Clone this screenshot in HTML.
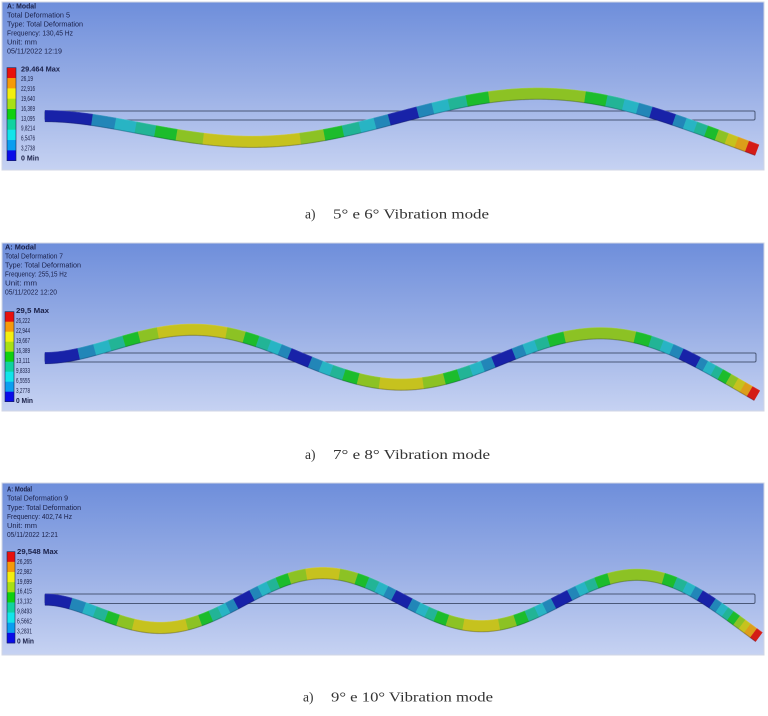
<!DOCTYPE html>
<html><head><meta charset="utf-8">
<style>
html,body{margin:0;padding:0;background:#fff;}
svg{display:block;}
.h{font-family:"Liberation Sans",sans-serif;font-size:7.5px;fill:#1a2048;}
.hb{font-family:"Liberation Sans",sans-serif;font-size:7.5px;fill:#1a2048;font-weight:bold;}
.l{font-family:"Liberation Sans",sans-serif;font-size:7px;fill:#1a2048;}
.lb{font-family:"Liberation Sans",sans-serif;font-size:7px;fill:#1a2048;font-weight:bold;}
.c{font-family:"Liberation Serif",serif;font-size:13.5px;fill:#333333;}
</style></head><body>
<svg id="s" width="768" height="716" viewBox="0 0 768 716" xmlns="http://www.w3.org/2000/svg">
<defs>
<linearGradient id="bg" x1="0" y1="0" x2="0" y2="1">
<stop offset="0" stop-color="#6e8edb"/>
<stop offset="0.5" stop-color="#98aee5"/>
<stop offset="1" stop-color="#c6d2f2"/>
</linearGradient>
</defs>
<rect width="768" height="716" fill="#fff"/>

<!-- Panel 1 -->
<rect x="2" y="2" width="762" height="168" fill="url(#bg)" stroke="#d0d6e4" stroke-width="1"/>
<text class="hb" x="7" y="8.5" textLength="29" lengthAdjust="spacingAndGlyphs">A: Modal</text>
<text class="h" x="7" y="17.5" textLength="63" lengthAdjust="spacingAndGlyphs">Total Deformation 5</text>
<text class="h" x="7" y="26.5" textLength="76" lengthAdjust="spacingAndGlyphs">Type: Total Deformation</text>
<text class="h" x="7" y="35.5" textLength="66" lengthAdjust="spacingAndGlyphs">Frequency: 130,45 Hz</text>
<text class="h" x="7" y="44.5" textLength="30" lengthAdjust="spacingAndGlyphs">Unit: mm</text>
<text class="h" x="7" y="53.5" textLength="55" lengthAdjust="spacingAndGlyphs">05/11/2022 12:19</text>
<text class="lb" x="21" y="71.3" textLength="39" lengthAdjust="spacingAndGlyphs">29.464 Max</text>
<text class="l" x="21" y="81.2" textLength="12" lengthAdjust="spacingAndGlyphs">26,19</text>
<text class="l" x="21" y="91.1" textLength="14" lengthAdjust="spacingAndGlyphs">22,916</text>
<text class="l" x="21" y="101" textLength="14" lengthAdjust="spacingAndGlyphs">19,640</text>
<text class="l" x="21" y="110.9" textLength="14" lengthAdjust="spacingAndGlyphs">16,369</text>
<text class="l" x="21" y="120.8" textLength="14" lengthAdjust="spacingAndGlyphs">13,095</text>
<text class="l" x="21" y="130.6" textLength="14" lengthAdjust="spacingAndGlyphs">9,8214</text>
<text class="l" x="21" y="140.5" textLength="14" lengthAdjust="spacingAndGlyphs">6,5476</text>
<text class="l" x="21" y="150.4" textLength="14" lengthAdjust="spacingAndGlyphs">3,2738</text>
<text class="lb" x="21" y="160.3" textLength="18" lengthAdjust="spacingAndGlyphs">0 Min</text>
<rect x="45" y="111" width="710" height="9" rx="1.5" fill="none" stroke="#4a5878" stroke-width="1"/>
<g id="b1"></g>
<g id="g1"></g>

<text class="c" x="305" y="218.5">a)</text>
<text class="c" x="333" y="218.5" textLength="156" lengthAdjust="spacingAndGlyphs">5° e 6° Vibration mode</text>

<!-- Panel 2 -->
<rect x="2" y="243" width="762" height="168" fill="url(#bg)" stroke="#d0d6e4" stroke-width="1"/>
<text class="hb" x="5" y="249.5" textLength="31" lengthAdjust="spacingAndGlyphs">A: Modal</text>
<text class="h" x="5" y="258.5" textLength="58" lengthAdjust="spacingAndGlyphs">Total Deformation 7</text>
<text class="h" x="5" y="267.5" textLength="76" lengthAdjust="spacingAndGlyphs">Type: Total Deformation</text>
<text class="h" x="5" y="276.5" textLength="62" lengthAdjust="spacingAndGlyphs">Frequency: 255,15 Hz</text>
<text class="h" x="5" y="285.5" textLength="32" lengthAdjust="spacingAndGlyphs">Unit: mm</text>
<text class="h" x="5" y="294.5" textLength="52" lengthAdjust="spacingAndGlyphs">05/11/2022 12:20</text>
<text class="lb" x="16" y="313" textLength="33" lengthAdjust="spacingAndGlyphs">29,5 Max</text>
<text class="l" x="16" y="323" textLength="14" lengthAdjust="spacingAndGlyphs">26,222</text>
<text class="l" x="16" y="333" textLength="14" lengthAdjust="spacingAndGlyphs">22,944</text>
<text class="l" x="16" y="343" textLength="14" lengthAdjust="spacingAndGlyphs">19,667</text>
<text class="l" x="16" y="353" textLength="14" lengthAdjust="spacingAndGlyphs">16,389</text>
<text class="l" x="16" y="363" textLength="14" lengthAdjust="spacingAndGlyphs">13,111</text>
<text class="l" x="16" y="373" textLength="14" lengthAdjust="spacingAndGlyphs">9,8333</text>
<text class="l" x="16" y="383" textLength="14" lengthAdjust="spacingAndGlyphs">6,5555</text>
<text class="l" x="16" y="393" textLength="14" lengthAdjust="spacingAndGlyphs">3,2778</text>
<text class="lb" x="16" y="403" textLength="17" lengthAdjust="spacingAndGlyphs">0 Min</text>
<rect x="45" y="353" width="711" height="9" rx="1.5" fill="none" stroke="#4a5878" stroke-width="1"/>
<g id="b2"></g>
<g id="g2"></g>

<text class="c" x="305" y="459">a)</text>
<text class="c" x="333" y="459" textLength="157" lengthAdjust="spacingAndGlyphs">7° e 8° Vibration mode</text>

<!-- Panel 3 -->
<rect x="2" y="483" width="762" height="172" fill="url(#bg)" stroke="#d0d6e4" stroke-width="1"/>
<text class="hb" x="7" y="491.5" textLength="25" lengthAdjust="spacingAndGlyphs">A: Modal</text>
<text class="h" x="7" y="500.5" textLength="61" lengthAdjust="spacingAndGlyphs">Total Deformation 9</text>
<text class="h" x="7" y="510" textLength="74" lengthAdjust="spacingAndGlyphs">Type: Total Deformation</text>
<text class="h" x="7" y="519" textLength="65" lengthAdjust="spacingAndGlyphs">Frequency: 402,74 Hz</text>
<text class="h" x="7" y="528" textLength="30" lengthAdjust="spacingAndGlyphs">Unit: mm</text>
<text class="h" x="7" y="537" textLength="51" lengthAdjust="spacingAndGlyphs">05/11/2022 12:21</text>
<text class="lb" x="17" y="554" textLength="41" lengthAdjust="spacingAndGlyphs">29,548 Max</text>
<text class="l" x="17" y="563.9" textLength="15" lengthAdjust="spacingAndGlyphs">26,265</text>
<text class="l" x="17" y="573.8" textLength="15" lengthAdjust="spacingAndGlyphs">22,982</text>
<text class="l" x="17" y="583.8" textLength="15" lengthAdjust="spacingAndGlyphs">19,699</text>
<text class="l" x="17" y="593.7" textLength="15" lengthAdjust="spacingAndGlyphs">16,415</text>
<text class="l" x="17" y="603.6" textLength="15" lengthAdjust="spacingAndGlyphs">13,132</text>
<text class="l" x="17" y="613.5" textLength="15" lengthAdjust="spacingAndGlyphs">9,8493</text>
<text class="l" x="17" y="623.4" textLength="15" lengthAdjust="spacingAndGlyphs">6,5662</text>
<text class="l" x="17" y="633.4" textLength="15" lengthAdjust="spacingAndGlyphs">3,2831</text>
<text class="lb" x="17" y="643.3" textLength="17" lengthAdjust="spacingAndGlyphs">0 Min</text>
<rect x="45" y="594" width="710" height="9.5" rx="1.5" fill="none" stroke="#4a5878" stroke-width="1"/>
<g id="b3"></g>
<g id="g3"></g>

<text class="c" x="303" y="701.5">a)</text>
<text class="c" x="331" y="701.5" textLength="162" lengthAdjust="spacingAndGlyphs">9° e 10° Vibration mode</text>
</svg>
<script>
(function(){
var NS="http://www.w3.org/2000/svg";
var legendCols=['#e8100c','#f59a0a','#f2ee10','#a8e014','#10d010','#10d2a0','#12e4ea','#0a9ef0','#0a0ce8'];
var beamCols=['#1822a8','#2286b8','#28b4c4','#22b496','#1cbc2c','#8cc224','#c6c21e','#dc9e1a','#d41c16'];
function el(tag,attrs,parent){var e=document.createElementNS(NS,tag);for(var k in attrs)e.setAttribute(k,attrs[k]);parent.appendChild(e);return e;}
function bar(id,x,y0,y1,w){
  var g=document.getElementById(id);var h=(y1-y0)/9;
  for(var i=0;i<9;i++){el('rect',{x:x,y:(y0+i*h).toFixed(2),width:w,height:(h+0.3).toFixed(2),fill:legendCols[i]},g);}
  el('rect',{x:x,y:y0,width:w,height:(y1-y0),fill:'none',stroke:'#1a2450','stroke-width':0.6},g);
}
function beam(id,y0,A,b,x0,x1){
  var g=document.getElementById(id);
  var s=(Math.cosh(b)+Math.cos(b))/(Math.sinh(b)+Math.sin(b));
  var f=function(xi){return Math.cosh(b*xi)-Math.cos(b*xi)-s*(Math.sinh(b*xi)-Math.sin(b*xi));};
  var n1=f(1);var N=800;var pts=[];
  for(var i=0;i<=N;i++){var xi=i/N;var v=f(xi)/n1;pts.push([x0+xi*(x1-x0),y0+A*v,v]);}
  var h=5.7;var top=[],bot=[];
  for(var i=0;i<=N;i++){
    var a=pts[Math.max(0,i-1)],c=pts[Math.min(N,i+1)];
    var dx=c[0]-a[0],dy=c[1]-a[1];var L=Math.hypot(dx,dy);dx/=L;dy/=L;
    top.push([pts[i][0]+dy*h,pts[i][1]-dx*h]);
    bot.push([pts[i][0]-dy*h,pts[i][1]+dx*h]);
  }
  function band(i){var v=(Math.abs(pts[i][2])+Math.abs(pts[i+1][2]))/2;return Math.min(8,Math.floor(v*9));}
  var i0=0,k=band(0);
  function flush(iEnd,kk){
    var p=[];for(var j=i0;j<=iEnd;j++)p.push(top[j][0].toFixed(2)+','+top[j][1].toFixed(2));
    for(var j=iEnd;j>=i0;j--)p.push(bot[j][0].toFixed(2)+','+bot[j][1].toFixed(2));
    el('polygon',{points:p.join(' '),fill:beamCols[kk],stroke:beamCols[kk],'stroke-width':0.4},g);
  }
  for(var i=1;i<N;i++){var kk=band(i);if(kk!==k){flush(i,k);i0=i;k=kk;}}
  flush(N,k);
  var pb=[];for(var j=0;j<=N;j+=2)pb.push(bot[j][0].toFixed(2)+','+bot[j][1].toFixed(2));
  el('polyline',{points:pb.join(' '),fill:'none',stroke:'rgba(10,20,60,0.25)','stroke-width':1.2},g);
  var pt=[];for(var j=0;j<=N;j+=2)pt.push(top[j][0].toFixed(2)+','+top[j][1].toFixed(2));
  el('polyline',{points:pt.join(' '),fill:'none',stroke:'rgba(255,255,255,0.12)','stroke-width':1},g);
}
bar('g1',7,67.7,160.7,9);
bar('g2',5,311.7,401.7,9);
bar('g3',7,551.7,643,8);
beam('b1',116,34,7.85476,45,757);
beam('b2',358,37.5,10.99554,45,757);
beam('b3',599.5,37.5,14.13717,45,759);
})();
</script>
</body></html>
